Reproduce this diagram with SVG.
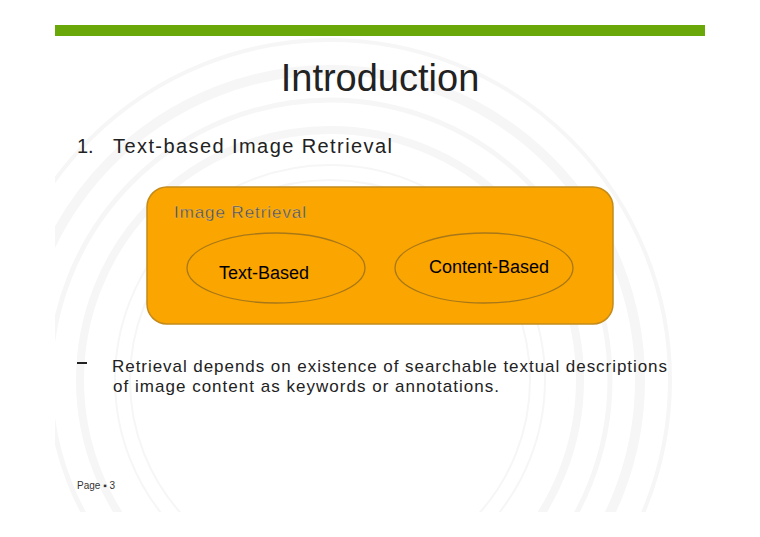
<svg xmlns="http://www.w3.org/2000/svg" width="760" height="537" viewBox="0 0 760 537">
<style>
.body{font-family:"Liberation Sans","DejaVu Sans",sans-serif;fill:#222}
.arc{fill:none;stroke:#f6f6f6}
.lbl{font-family:"Liberation Sans",Arial,sans-serif;fill:#000;font-size:18px}
</style>
<defs>
<clipPath id="slide"><rect x="55" y="36" width="650" height="476"/></clipPath>
</defs>
<rect width="760" height="537" fill="#fff"/>
<g clip-path="url(#slide)">
<circle class="arc" cx="330" cy="380" r="250" stroke-width="8"/>
<circle class="arc" cx="330" cy="380" r="280" stroke-width="5"/>
<circle class="arc" cx="330" cy="380" r="310" stroke-width="10"/>
<circle class="arc" cx="330" cy="380" r="200" stroke-width="2"/>
<circle class="arc" cx="330" cy="380" r="215" stroke-width="2"/>
<circle class="arc" cx="330" cy="380" r="340" stroke-width="4"/>
</g>
<rect x="55" y="25" width="650" height="11" fill="#6aa80a"/>
<text class="body" x="380" y="91" font-size="38" text-anchor="middle">Introduction</text>
<text class="body" x="77" y="153" font-size="20">1.</text>
<text class="body" x="113" y="153" font-size="20" textLength="279">Text-based Image Retrieval</text>
<g id="image-retrieval">
<rect x="147" y="187" width="466" height="137" rx="20" fill="#fba500" stroke="#c48a1a" stroke-width="1.5"/>
<text x="174" y="218" font-family="Liberation Sans,Arial,sans-serif" font-size="17" fill="#4a4a4a" stroke="#f0c878" stroke-width="0.3" textLength="132">Image Retrieval</text>
</g>
<g id="text-based">
<ellipse cx="276" cy="268" rx="89" ry="35" fill="#fba500" stroke="#a87818" stroke-width="1.3"/>
<text class="lbl" x="264" y="279" text-anchor="middle">Text-Based</text>
</g>
<g id="content-based">
<ellipse cx="484" cy="268" rx="89" ry="35" fill="#fba500" stroke="#a87818" stroke-width="1.3"/>
<text class="lbl" x="489" y="273" text-anchor="middle">Content-Based</text>
</g>
<g id="connectors"/>
<rect x="77" y="362" width="10" height="2" fill="#222"/>
<text class="body" x="112" y="372" font-size="17" textLength="555">Retrieval depends on existence of searchable textual descriptions</text>
<text class="body" x="113" y="392" font-size="17" textLength="386">of image content as keywords or annotations.</text>
<text x="77" y="489" font-family="Liberation Sans,Arial,sans-serif" font-size="10" fill="#333">Page ▪ 3</text>
</svg>
